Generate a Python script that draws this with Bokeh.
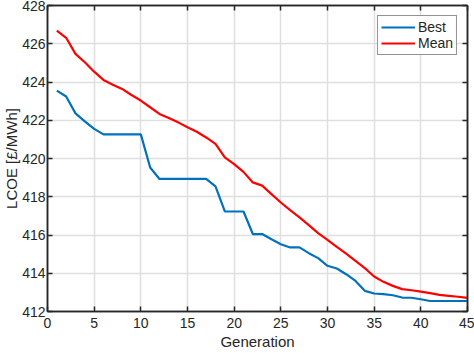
from bokeh.plotting import figure
from bokeh.models import LinearAxis, Range1d, FixedTicker, Legend, LegendItem
from bokeh.embed import file_html
from bokeh.resources import INLINE

generation = list(range(1, 46))
best = [423.55, 423.24, 422.36, 421.94, 421.55, 421.26, 421.26, 421.26, 421.26, 421.26,
        419.53, 418.93, 418.93, 418.93, 418.93, 418.93, 418.93, 418.54, 417.23, 417.23,
        417.23, 416.05, 416.05, 415.78, 415.52, 415.35, 415.35, 415.05, 414.79, 414.39,
        414.25, 413.95, 413.60, 413.08, 412.94, 412.91, 412.85, 412.73, 412.72, 412.64,
        412.55, 412.55, 412.55, 412.55, 412.55]
mean = [426.69, 426.31, 425.47, 425.03, 424.54, 424.11, 423.86, 423.64, 423.32, 423.03,
        422.68, 422.33, 422.12, 421.89, 421.63, 421.40, 421.10, 420.76, 420.06, 419.71,
        419.30, 418.75, 418.58, 418.14, 417.70, 417.30, 416.92, 416.52, 416.10, 415.75,
        415.38, 415.03, 414.65, 414.27, 413.83, 413.55, 413.34, 413.17, 413.11, 413.04,
        412.96, 412.87, 412.82, 412.77, 412.71]
x_ticks = [0, 5, 10, 15, 20, 25, 30, 35, 40, 45]
y_ticks = [412, 414, 416, 418, 420, 422, 424, 426, 428]

FONT = "Liberation Sans"
TXT = "#262626"

p = figure(width=474, height=353, output_backend="svg", toolbar_location=None,
           x_range=Range1d(0, 45), y_range=Range1d(412, 428),
           min_border_left=47, min_border_right=7, min_border_top=5, min_border_bottom=42)
p.background_fill_color = "white"
p.border_fill_color = "white"
p.outline_line_color = "#262626"
p.outline_line_width = 1.5

for ax in (p.xaxis[0], p.yaxis[0]):
    ax.major_tick_in = 5
    ax.major_tick_out = 0
    ax.minor_tick_in = 0
    ax.minor_tick_out = 0
    ax.axis_line_color = "#262626"
    ax.axis_line_width = 1.5
    ax.major_tick_line_color = "#262626"
    ax.major_tick_line_width = 1.5
    ax.major_label_text_font = FONT
    ax.major_label_text_font_size = "14px"
    ax.major_label_text_color = TXT
    ax.axis_label_text_font = FONT
    ax.axis_label_text_font_size = "15px"
    ax.axis_label_text_font_style = "normal"
    ax.axis_label_text_color = TXT

p.xaxis[0].ticker = FixedTicker(ticks=x_ticks)
p.yaxis[0].ticker = FixedTicker(ticks=y_ticks)
p.xaxis[0].axis_label = "Generation"
p.yaxis[0].axis_label = "LCOE [£/MWh]"
p.xaxis[0].major_label_standoff = 6
p.yaxis[0].major_label_standoff = 2
p.xaxis[0].axis_label_standoff = 2
p.yaxis[0].axis_label_standoff = -1

for loc, tk in (("right", y_ticks), ("above", x_ticks)):
    a = LinearAxis(ticker=FixedTicker(ticks=tk))
    a.major_tick_in = 5
    a.major_tick_out = 0
    a.minor_tick_in = 0
    a.minor_tick_out = 0
    a.major_label_overrides = {t: "" for t in tk}
    a.major_label_standoff = 0
    a.axis_line_color = "#262626"
    a.axis_line_width = 1.5
    a.major_tick_line_color = "#262626"
    a.major_tick_line_width = 1.5
    p.add_layout(a, loc)

p.xgrid.ticker = FixedTicker(ticks=x_ticks)
p.ygrid.ticker = FixedTicker(ticks=y_ticks)
p.grid.grid_line_color = "#dfdfdf"
p.grid.grid_line_width = 1.5

r1 = p.line(generation, best, line_color="#0072BD", line_width=2.2)
r2 = p.line(generation, mean, line_color="#FF0000", line_width=2.2)

legend = Legend(items=[LegendItem(label="Best", renderers=[r1]),
                       LegendItem(label="Mean", renderers=[r2])],
                location="top_right")
legend.label_text_font = FONT
legend.label_text_font_size = "14px"
legend.label_text_color = TXT
legend.border_line_color = "#262626"
legend.border_line_width = 1.5
legend.glyph_width = 34
legend.glyph_height = 16
legend.label_height = 16
legend.spacing = 0
legend.padding = 3
legend.margin = 10
legend.label_standoff = 3
legend.background_fill_alpha = 1
p.add_layout(legend)

open("out.html", "w").write(file_html(p, INLINE))
